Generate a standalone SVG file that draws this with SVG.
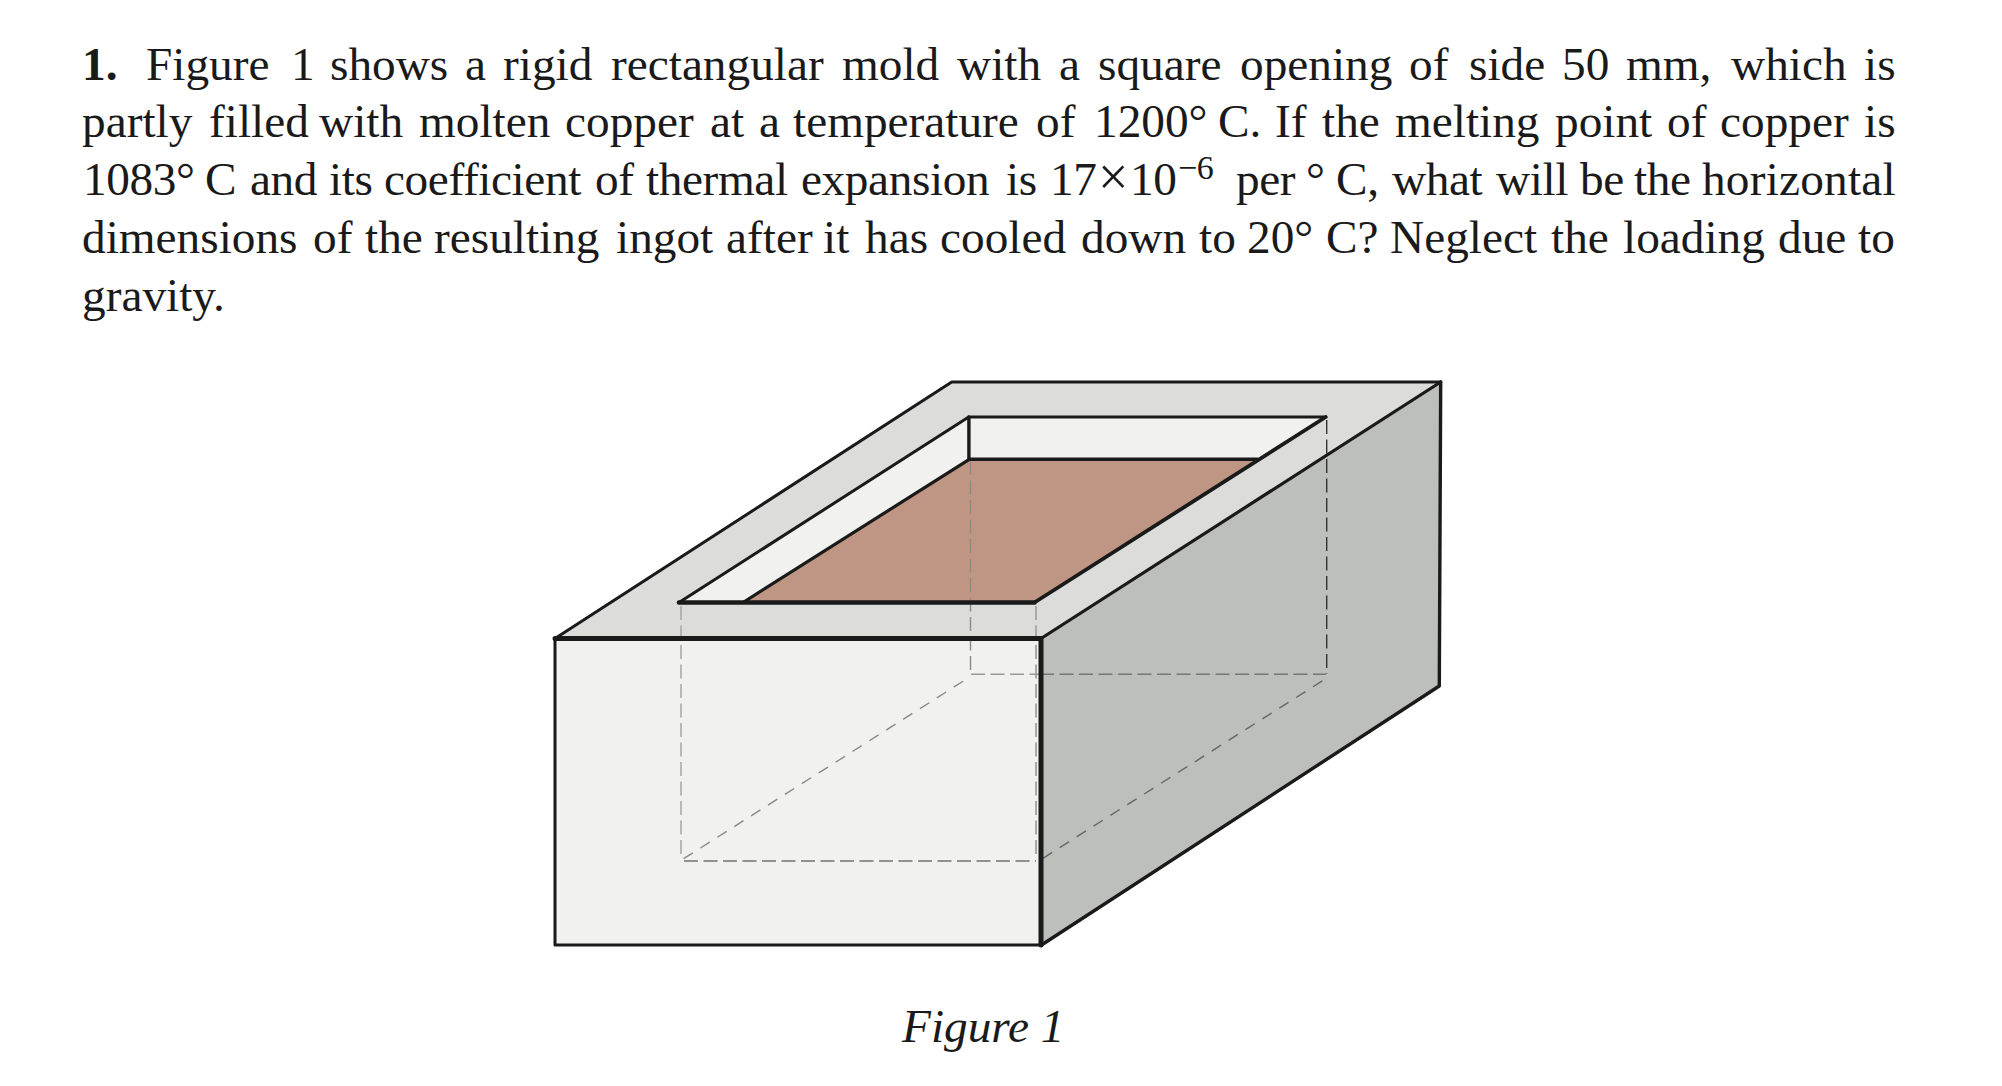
<svg xmlns="http://www.w3.org/2000/svg" width="2002" height="1086" viewBox="0 0 2002 1086">
<style>
text{font-family:"Liberation Serif","Times New Roman",serif;font-size:47.3px;fill:#1a1a1a}
.b{font-weight:700}
.sup{font-size:34px}
.x{font-size:54px}
.t{word-spacing:-4px;letter-spacing:-.4px}
.w{letter-spacing:.2px}
.cap{font-style:italic;font-size:47.3px}
.l{fill:none;stroke:#1a1a1a;stroke-linecap:round;stroke-linejoin:round}
.d{fill:none;stroke-dasharray:14 5.5;stroke-width:1.4}
.g{stroke-dasharray:11 9}
</style>
<rect width="2002" height="1086" fill="#fff"/>
<g id="problem-text">
<text y="79.5"><tspan class="b" x="82">1. </tspan><tspan x="146">Figure </tspan><tspan x="291">1 </tspan><tspan x="330">shows </tspan><tspan x="465">a </tspan><tspan x="503">rigid </tspan><tspan x="611">rectangular </tspan><tspan x="842">mold </tspan><tspan x="957">with </tspan><tspan x="1059">a </tspan><tspan x="1098">square </tspan><tspan x="1240">opening </tspan><tspan x="1409">of </tspan><tspan x="1469">side </tspan><tspan x="1562">50 </tspan><tspan x="1626">mm, </tspan><tspan x="1731">which </tspan><tspan x="1864">is</tspan></text>
<text y="136.7"><tspan x="82">partly </tspan><tspan x="209">filled </tspan><tspan x="319">with </tspan><tspan x="419">molten </tspan><tspan x="565">copper </tspan><tspan x="710">at </tspan><tspan x="759">a </tspan><tspan x="793">temperature </tspan><tspan x="1036">of </tspan><tspan x="1094">1200° </tspan><tspan x="1218">C. </tspan><tspan x="1275">If </tspan><tspan x="1322">the </tspan><tspan x="1395">melting </tspan><tspan x="1555">point </tspan><tspan x="1667">of </tspan><tspan x="1720">copper </tspan><tspan x="1864">is</tspan></text>
<text class="t" y="195"><tspan x="83">1083° </tspan><tspan x="205">C </tspan><tspan x="250">and </tspan><tspan x="329">its </tspan><tspan x="384">coefficient </tspan><tspan x="595">of </tspan><tspan x="646">thermal </tspan><tspan x="801">expansion </tspan><tspan x="1006">is </tspan><tspan x="1050">17</tspan><tspan class="x" x="1098">×</tspan><tspan x="1130">10</tspan><tspan class="sup" x="1178" y="179">−6 </tspan><tspan x="1236" y="195">per </tspan><tspan x="1306">° </tspan><tspan x="1336">C, </tspan><tspan x="1392">what </tspan><tspan x="1496">will </tspan><tspan x="1580">be </tspan><tspan x="1634">the </tspan><tspan class="w" x="1702">horizontal</tspan></text>
<text y="253"><tspan x="82">dimensions </tspan><tspan x="313">of </tspan><tspan x="365">the </tspan><tspan x="434">resulting </tspan><tspan x="616">ingot </tspan><tspan x="726">after </tspan><tspan x="823">it </tspan><tspan x="865">has </tspan><tspan x="940">cooled </tspan><tspan x="1081">down </tspan><tspan x="1199">to </tspan><tspan x="1247">20° </tspan><tspan x="1326">C? </tspan><tspan x="1390">Neglect </tspan><tspan x="1551">the </tspan><tspan x="1623">loading </tspan><tspan x="1778">due </tspan><tspan x="1858">to</tspan></text>
<text x="82" y="310.7">gravity.</text>
</g>
<g id="mold">
<polygon id="top-face" points="555,638.5 951.7,382 1440.7,382 1041,638.5" fill="#dcdcda"/>
<rect id="front-face" x="555" y="638.5" width="486" height="306.5" fill="#f1f1ef"/>
<polygon id="right-face" points="1041,638.5 1440.7,382 1439.3,686 1041.5,945" fill="#bdbfbb"/>
<polygon id="opening-wall" points="679,602.5 968.7,417 1325.7,417 1034.5,602.5" fill="#f1f1ef"/>
<polygon id="copper" points="743,602.5 969.3,459.3 1257.3,459.3 1034.5,602.5" fill="#bf9684"/>
</g>
<g id="hidden-edges">
<path class="d" stroke="#aaa" style="stroke-width:1.6" d="M681 606V858"/>
<path class="d" stroke="#aaa" style="stroke-width:2" d="M1036 606V858"/>
<path class="d" stroke="#8a8a88" d="M970.5 461V674"/>
<path class="d" stroke="#999" d="M971 674.3H1040"/>
<path class="d" stroke="#777" d="M1040 674.3H1326"/>
<path class="d" stroke="#333" d="M1326.7 420V674"/>
<path class="d" stroke="#333" style="stroke-width:1.2" d="M684 861H1036"/>
<path class="d g" stroke="#888" d="M683.6 858.7L969.3 677.3"/>
<path class="d g" stroke="#666" d="M1042.9 858.3L1325.7 678.7"/>
</g>
<g id="edges">
<path class="l" stroke-width="3" d="M555 638.5L951.7 382H1440.7"/>
<path class="l" stroke-width="3" d="M679 602.5L968.7 417H1325.7"/>
<path class="l" stroke-width="3.4" d="M968.9 417V459.3H1257.3"/>
<path class="l" stroke-width="3.2" d="M743 602.5L969.3 459.3"/>
<path class="l" stroke-width="4.6" d="M679 602.5H1034.5"/>
<path class="l" stroke-width="3.8" d="M1034.5 602.5L1325.7 417"/>
<path class="l" stroke-width="3.2" d="M1041 638.5L1440.7 382"/>
<path class="l" stroke-width="3.4" d="M1440.7 382L1439.3 686L1041.5 945"/>
<path class="l" stroke-width="3" d="M555 638.5V945H1041.5"/>
<path class="l" stroke-width="5" d="M555 638.5H1041V945"/>
</g>
<text id="caption" class="cap" x="902" y="1041.5">Figure 1</text>
</svg>
